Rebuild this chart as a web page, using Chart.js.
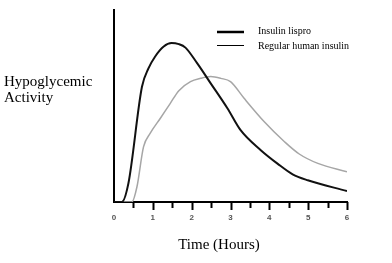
<!DOCTYPE html>
<html>
<head>
<meta charset="utf-8">
<script src="https://cdn.jsdelivr.net/npm/chart.js@4"></script>
<style>
  html, body { margin: 0; padding: 0; background: #fff; }
  #wrap { width: 392px; height: 263px; }
</style>
</head>
<body>
<div id="wrap"><canvas id="myChart" width="392" height="263"></canvas></div>
<script>
'use strict';
// time in hours, activity in arbitrary units (0-100 = axis height)
const lisproTimes = [0, 0.2, 0.37, 0.72, 0.89, 1.06, 1.28, 1.48, 1.67, 1.84, 2.14, 2.49, 2.92, 3.26, 3.78, 4.21, 4.6, 4.99, 6];
const lisproActivity = [0, 0, 9.6, 60, 69.7, 75.8, 81, 82.8, 82.2, 80.4, 72.3, 61.8, 48.8, 37.4, 27, 20, 14.4, 11.3, 5.7];
const regularTimes = [0, 0.46, 0.59, 0.76, 0.93, 1.19, 1.45, 1.67, 1.97, 2.23, 2.49, 2.75, 3.0, 3.35, 3.87, 4.39, 4.77, 5.25, 6];
const regularActivity = [0, 0, 7.8, 28.7, 35.7, 43.5, 51.4, 58, 62.7, 64.4, 65.3, 64.4, 62.7, 54, 41.8, 31.4, 25, 20.1, 15.8];
const tickValues = [0.5, 1, 1.5, 2, 2.5, 3, 3.5, 4, 4.5, 5, 5.5, 6];
const seriesNames = ['Insulin lispro', 'Regular human insulin'];
const yTitle = ['Hypoglycemic', 'Activity'];
const xTitle = 'Time (Hours)';

function toPoints(xs, ys) {
    return xs.map((x, i) => ({ x: x, y: ys[i] }));
}

// tick marks below the x axis: long on whole hours, short on half hours
const tickMarks = {
    id: 'tickMarks',
    afterDraw(chart) {
        const ctx = chart.ctx;
        const xs = chart.scales.x;
        const y0 = chart.chartArea.bottom;
        ctx.save();
        ctx.strokeStyle = '#000';
        tickValues.forEach(v => {
            const px = Math.round(xs.getPixelForValue(v)) + 0.5;
            const major = Number.isInteger(v);
            ctx.lineWidth = 2;
            ctx.beginPath();
            ctx.moveTo(px, y0);
            ctx.lineTo(px, y0 + (major ? 8 : 6));
            ctx.stroke();
        });
        ctx.restore();
    }
};

const textPlugin = {
    id: 'texts',
    afterDraw(chart) {
        const ctx = chart.ctx;
        ctx.save();
        ctx.fillStyle = '#000';
        ctx.textBaseline = 'alphabetic';
        ctx.textAlign = 'left';
        ctx.font = '15px "Liberation Serif"';
        ctx.fillText(yTitle[0], 4, 86);
        ctx.fillText(yTitle[1], 4, 102);

        ctx.textAlign = 'center';
        ctx.fillText(xTitle, 219, 249);

        // legend
        ctx.textAlign = 'left';
        ctx.textBaseline = 'middle';
        ctx.font = '10px "Liberation Serif"';
        ctx.strokeStyle = '#000';
        ctx.lineWidth = 2.5;
        ctx.beginPath();
        ctx.moveTo(217, 32);
        ctx.lineTo(244, 32);
        ctx.stroke();
        ctx.lineWidth = 1;
        ctx.beginPath();
        ctx.moveTo(217, 45.5);
        ctx.lineTo(244, 45.5);
        ctx.stroke();
        ctx.fillText(seriesNames[0], 258, 31);
        ctx.fillText(seriesNames[1], 258, 46);
        ctx.restore();
    }
};

new Chart(document.getElementById('myChart').getContext('2d'), {
    type: 'line',
    data: {
        datasets: [{
            label: seriesNames[0],
            data: toPoints(lisproTimes, lisproActivity),
            borderColor: '#111',
            borderWidth: 2,
            pointRadius: 0,
            cubicInterpolationMode: 'monotone',
            fill: false
        }, {
            label: seriesNames[1],
            data: toPoints(regularTimes, regularActivity),
            borderColor: '#a6a6a6',
            borderWidth: 1.5,
            pointRadius: 0,
            cubicInterpolationMode: 'monotone',
            fill: false
        }]
    },
    options: {
        responsive: false,
        animation: false,
        layout: { padding: { left: 0, right: 45, top: 10, bottom: 0 } },
        plugins: {
            legend: { display: false },
            tooltip: { enabled: false }
        },
        scales: {
            x: {
                type: 'linear',
                min: 0,
                max: 6,
                afterFit(scale) { scale.height = 61; },
                border: { display: true, color: '#000', width: 2 },
                grid: { display: false, drawTicks: false },
                ticks: {
                    stepSize: 1,
                    autoSkip: false,
                    maxRotation: 0,
                    padding: 11,
                    color: '#555',
                    font: { family: 'Liberation Sans', size: 8, weight: 'bold' }
                }
            },
            y: {
                min: 0,
                max: 100,
                afterFit(scale) { scale.width = 114; },
                border: { display: true, color: '#000', width: 2 },
                grid: { display: false },
                ticks: { display: false }
            }
        }
    },
    plugins: [tickMarks, textPlugin]
});
</script>
</body>
</html>
